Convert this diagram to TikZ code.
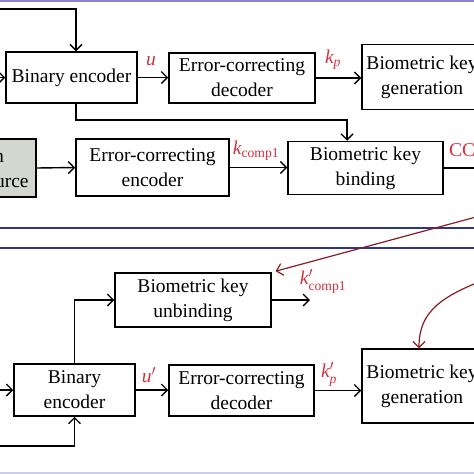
\documentclass[tikz,border=0pt]{standalone}
\usepackage{amsmath}
\usepackage{fontspec}
\setmainfont{Liberation Serif}
\usetikzlibrary{arrows.meta}

\definecolor{keyred}{HTML}{D5303E}
\definecolor{linkred}{HTML}{8C1C24}
\definecolor{rulenavy}{HTML}{2F3586}
\definecolor{rulelilac}{HTML}{8B87C5}
\definecolor{rulepale}{HTML}{CDCDEB}
\definecolor{srcgray}{HTML}{D4D6D0}

\tikzstyle{codebox} = [draw=black, line width=1.5pt, rectangle, align=center,
    inner sep=2pt, font=\fontsize{19.5}{25}\selectfont]
\tikzstyle{keylabel} = [text=keyred, inner sep=0pt, font=\fontsize{19.5}{25}\selectfont]
\tikzstyle{flow} = [line width=1.4pt, -{Straight Barb[length=6pt,width=12pt]}]
\tikzstyle{link} = [linkred, line width=1.2pt, -{Straight Barb[length=6pt,width=12pt]}]

\begin{document}
\begin{tikzpicture}[x=1pt, y=-1pt]
    \useasboundingbox (0,0) rectangle (474,474);
    \clip (0,0) rectangle (474,474);
    \fill[white] (0,0) rectangle (474,474);
%------------ Trennlinien ---------------------
    \draw[rulelilac, line width=2.5pt] (0,0.8) -- (474,0.8);
    \draw[rulenavy, line width=1.4pt] (0,228) -- (474,228);
    \draw[rulenavy, line width=1.4pt] (0,248) -- (474,248);
    \draw[rulepale, line width=3pt] (0,473) -- (474,473);
%------------ Registrierung ---------------------
    \node [codebox, minimum width=131pt, minimum height=51pt] (be1) at (71.5,77.5) {Binary encoder};
    \node [codebox, minimum width=146pt, minimum height=50pt] (ecd1) at (242,78) {Error-correcting\\decoder};
    \node [codebox, minimum width=120pt, minimum height=65pt] (bkg1) at (422,77) {Biometric key\\generation};
    \node [codebox, fill=srcgray, minimum width=130pt, minimum height=58pt] (src) at (-29,168) {Random\\number source};
    \node [codebox, minimum width=153pt, minimum height=57pt] (ece) at (152.5,167.5) {Error-correcting\\encoder};
    \node [codebox, minimum width=155pt, minimum height=53pt] (bkb) at (365.5,168) {Biometric key\\binding};

    \coordinate (in1) at (-20,77.5);
    \coordinate (fb1) at (-20,9);
    \coordinate (tap1) at (76,9);
    \coordinate (jog1) at (76,120);
    \coordinate (drop1) at (347,120);
    \coordinate (ccout) at (500,168);

    \draw [flow] (in1) -- (be1.west);
    \draw [flow] (fb1) -- (tap1) -- (tap1 |- be1.north);
    \draw [flow] (jog1 |- be1.south) -- (jog1) -- (drop1) -- (drop1 |- bkb.north);
    \draw [flow] (be1.east) -- (be1.east -| ecd1.west);
    \draw [flow] (ecd1.east) -- (ecd1.east -| bkg1.west);
    \draw [flow] (src.east) -- (ece.west);
    \draw [flow] (ece.east) -- (ece.east -| bkb.west);
    \draw [line width=1.4pt] (bkb.east) -- (ccout);

    \node [keylabel] (ulab) at (151,61) {\textit{u}};
    \node [keylabel] (kplab) at (333,60) {$\textit{k}_{\textit{p}}$};
    \node [keylabel] (kclab) at (256,151) {$\textit{k}_{\text{comp1}}$};
    \node [keylabel, anchor=west] (cclab) at (449,150) {CC};
%------------ Verifikation ---------------------
    \node [codebox, minimum width=156pt, minimum height=54pt] (unb) at (193,300) {Biometric key\\unbinding};
    \node [codebox, minimum width=121pt, minimum height=52pt] (be2) at (74.5,390) {Binary\\encoder};
    \node [codebox, minimum width=145pt, minimum height=51pt] (ecd2) at (241.5,390.5) {Error-correcting\\decoder};
    \node [codebox, minimum width=120pt, minimum height=74pt] (bkg2) at (422,386) {Biometric key\\generation};

    \coordinate (in2) at (-20,390);
    \coordinate (fb2) at (-20,446);
    \coordinate (kcout) at (310,300);
    \coordinate (ccdown) at (500,210.5);
    \coordinate (hashin) at (492,277);

    \draw [flow] (in2) -- (be2.west);
    \draw [flow] (fb2) -| (be2.south);
    \draw [flow] (be2.north) |- (unb.west);
    \draw [flow] (unb.east) -- (kcout);
    \draw [flow] (be2.east) -- (be2.east -| ecd2.west);
    \draw [flow] (ecd2.east) -- (ecd2.east -| bkg2.west);
    \draw [link, shorten >=4pt] (ccdown) -- (unb.north east);
    \draw [link] (hashin) .. controls (440,296) and (419,312) .. ([xshift=-3pt]bkg2.north);

    \node [keylabel] (uplab) at (149,375) {$\textit{u}'$};
    \node [keylabel] (kpplab) at (329,374) {$\textit{k}'_{\textit{p}}$};
    \node [keylabel] (kcplab) at (323,281) {$\textit{k}'_{\text{comp1}}$};
\end{tikzpicture}
\end{document}
